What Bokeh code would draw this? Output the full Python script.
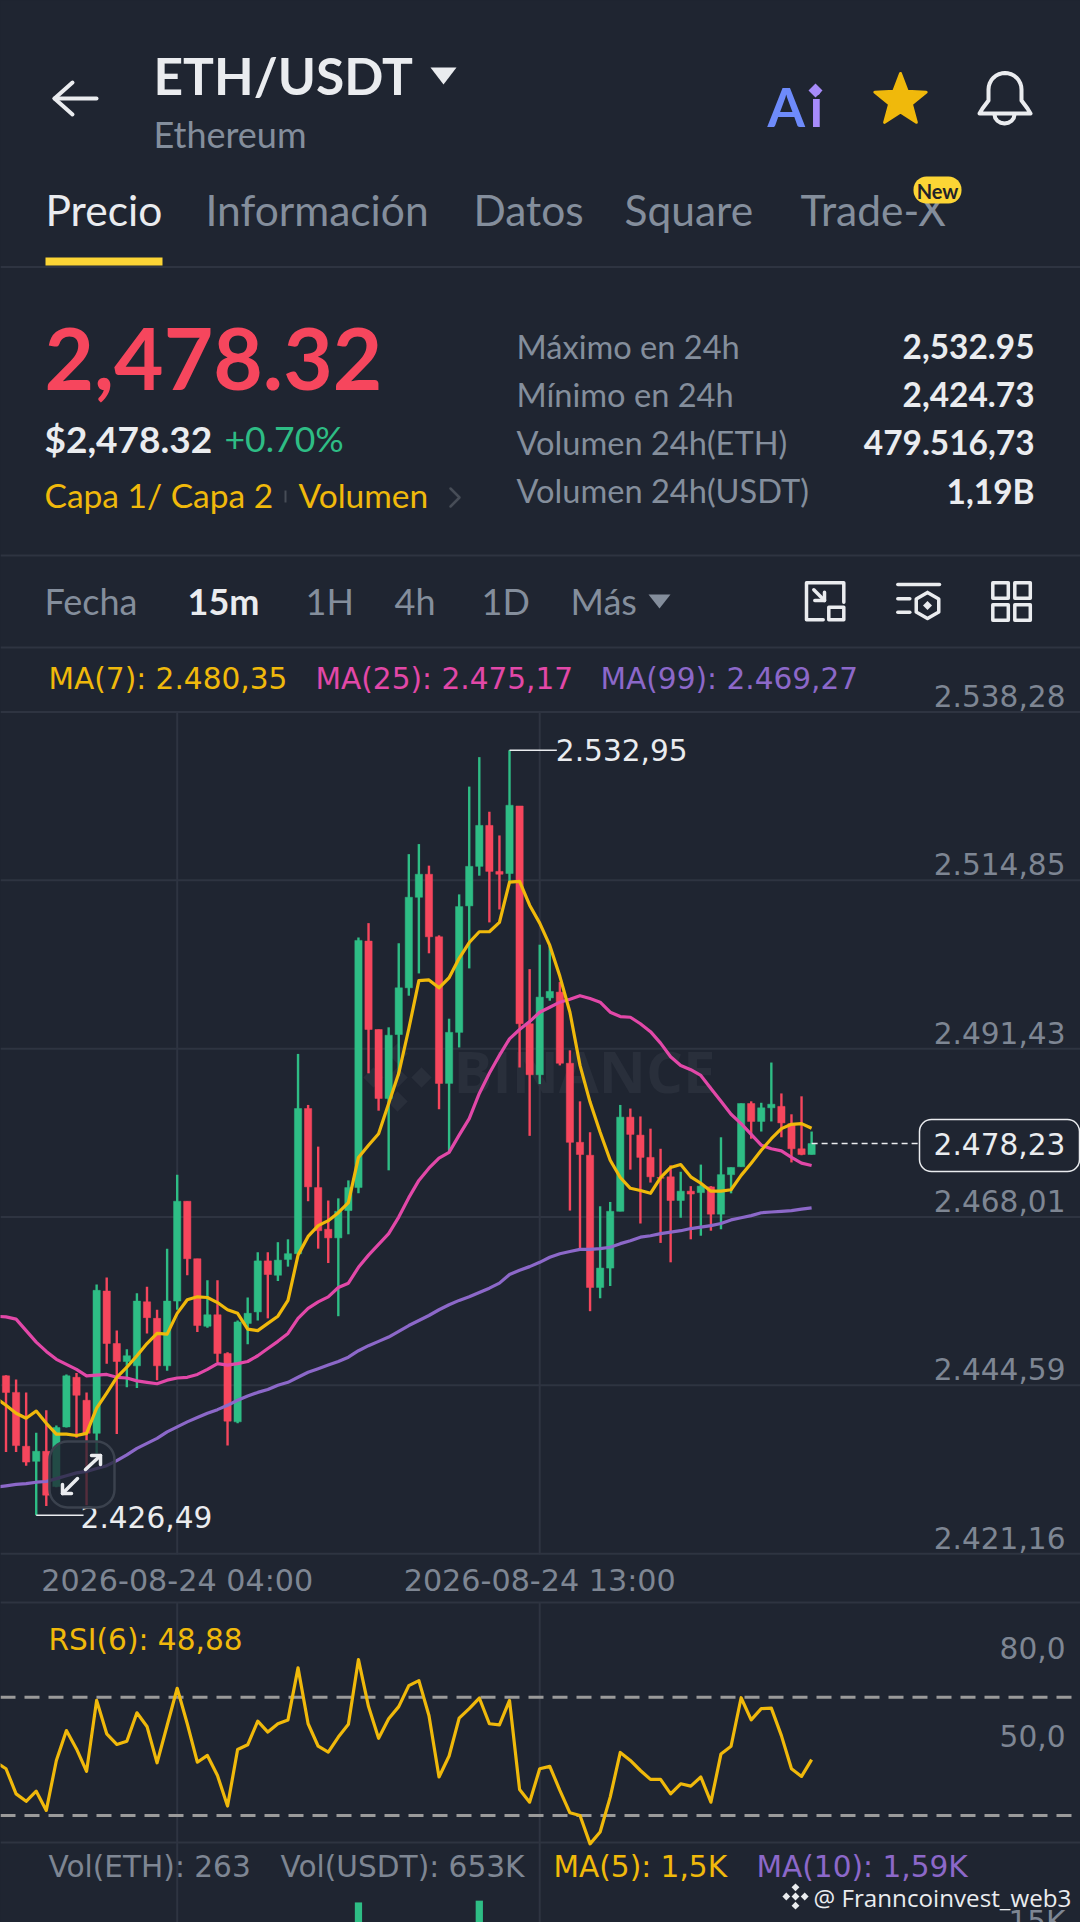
import math
from bokeh.plotting import figure
from bokeh.models import Range1d, ColumnDataSource
from bokeh.core.properties import value
from bokeh.embed import file_html
from bokeh.resources import INLINE

# ---------- data ----------
candle_index = list(range(-17, 64))
open_ = [2445.9,2443.6,2436.1,2434.0,2435.4,2430.5,2438.8,2445.7,2442.5,2437.9,2457.7,2450.4,2447.9,2447.3,2456.2,2453.9,2447.3,
2456.3,2470.2,2462.2,2452.8,2454.4,2449.0,2439.5,2453.2,2454.8,2461.9,2459.9,2462.1,2462.9,2483.1,2472.1,2466.3,2465.1,2468.9,
2472.1,2506.4,2494.1,2484.5,2493.4,2499.9,2512.5,2515.7,2507.0,2486.6,2493.7,2511.3,2516.8,2522.5,2516.1,2515.8,2525.2,2494.9,
2487.8,2498.5,2499.3,2489.4,2478.4,2476.6,2458.2,2460.9,2468.8,2481.9,2479.4,2476.3,2473.5,2473.6,2470.3,2471.6,2471.4,2472.2,
2468.4,2473.9,2475.0,2483.8,2481.3,2483.2,2483.4,2481.0,2477.5,2476.7]
high = [2446.0,2445.4,2443.6,2438.0,2441.1,2439.0,2446.1,2446.3,2443.6,2458.6,2459.6,2452.2,2449.6,2457.4,2458.3,2455.1,2463.6,
2473.9,2470.2,2462.2,2459.2,2459.2,2449.2,2453.6,2456.8,2463.1,2463.1,2464.5,2464.9,2490.7,2483.6,2477.8,2470.3,2470.6,2473.1,
2506.9,2508.9,2494.1,2494.4,2506.1,2518.5,2519.9,2516.9,2507.2,2495.6,2512.9,2527.9,2532.0,2524.4,2521.1,2532.95,2525.2,2502.5,
2505.9,2505.8,2500.7,2491.2,2484.1,2479.8,2469.5,2470.1,2483.6,2483.1,2482.0,2480.3,2477.5,2475.2,2474.3,2472.3,2475.3,2472.3,
2479.1,2474.9,2483.8,2484.1,2483.9,2489.5,2485.2,2482.3,2484.8,2479.9]
low = [2435.3,2435.3,2433.4,2426.49,2427.8,2430.4,2438.7,2437.3,2427.9,2435.1,2447.6,2437.8,2444.3,2444.2,2451.8,2445.3,2446.6,
2455.1,2459.9,2452.0,2452.6,2447.8,2436.2,2439.3,2450.3,2453.6,2453.9,2459.1,2461.1,2462.8,2470.2,2463.6,2461.6,2454.2,2465.6,
2471.3,2488.0,2482.8,2474.5,2487.7,2498.8,2501.9,2504.7,2483.0,2477.0,2491.6,2502.6,2515.5,2509.0,2510.8,2514.4,2488.8,2479.3,
2486.5,2498.1,2489.1,2468.9,2463.6,2454.9,2456.7,2458.4,2468.8,2474.6,2467.1,2472.8,2464.4,2461.7,2467.9,2464.9,2465.4,2466.1,
2466.3,2471.3,2475.0,2478.9,2479.9,2481.3,2479.1,2475.6,2476.6,2476.7]
close = [2443.6,2436.2,2433.9,2435.4,2429.3,2438.7,2445.9,2443.2,2437.9,2457.8,2450.4,2447.9,2448.7,2456.3,2454.0,2447.3,2456.3,
2470.2,2462.2,2452.9,2454.4,2449.0,2439.6,2453.4,2454.6,2461.9,2460.0,2462.0,2462.9,2483.1,2472.2,2466.1,2465.1,2468.8,2472.1,
2506.5,2494.1,2484.5,2493.3,2499.9,2512.5,2515.7,2507.0,2486.6,2493.7,2511.2,2516.8,2522.5,2516.1,2515.7,2525.3,2494.9,2487.8,
2498.6,2499.4,2489.4,2478.4,2476.7,2458.2,2460.9,2468.8,2481.9,2479.5,2476.3,2473.6,2473.4,2470.3,2471.6,2471.2,2472.3,2468.4,
2473.9,2474.9,2483.8,2481.3,2483.2,2483.7,2481.1,2477.5,2476.7,2478.23]

line_index = list(range(-18, 64))
ma7 = [2442.8,2441.8,2440.7,2440.0,2441.0,2439.3,2437.8,2437.8,2437.6,2437.9,2441.4,2443.5,2445.7,2447.1,2448.7,2450.4,2451.8,2451.7,
2454.6,2456.5,2456.9,2456.8,2456.1,2455.1,2454.6,2452.4,2452.2,2453.2,2454.2,2456.4,2462.7,2465.3,2466.8,2467.5,2468.6,2470.0,
2476.3,2478.0,2479.6,2483.8,2488.0,2494.2,2500.9,2501.0,2499.9,2501.3,2504.0,2506.2,2507.7,2507.7,2509.0,2514.6,2514.7,2511.4,
2508.9,2505.8,2501.5,2496.5,2489.1,2484.0,2479.8,2475.9,2473.5,2472.0,2471.7,2471.3,2473.5,2474.9,2475.3,2473.6,2472.7,2471.6,
2471.6,2471.8,2473.8,2475.5,2477.3,2478.9,2480.3,2480.9,2481.0,2480.35]
ma25 = [2454.2,2454.1,2453.8,2452.2,2450.6,2449.3,2448.2,2447.5,2446.8,2445.9,2446.0,2446.1,2445.7,2445.6,2445.2,2445.0,2444.8,2445.3,
2445.6,2445.7,2446.1,2446.8,2447.6,2447.4,2447.6,2447.9,2448.7,2449.7,2450.7,2451.8,2453.9,2455.3,2456.2,2456.9,2458.2,2458.8,
2461.0,2462.7,2464.2,2465.7,2468.0,2470.7,2473.1,2474.8,2476.2,2477.0,2479.4,2481.7,2485.2,2488.0,2490.5,2492.8,2494.1,2495.2,
2496.5,2497.2,2497.9,2498.3,2498.8,2498.4,2497.9,2496.5,2495.9,2495.8,2494.9,2493.8,2492.2,2490.3,2489.1,2488.5,2487.7,2485.9,
2484.1,2482.3,2481.0,2479.5,2478.0,2477.5,2477.2,2476.3,2475.5,2475.17]
ma99 = [2430.4,2430.6,2430.8,2430.9,2431.1,2431.2,2431.6,2432.0,2432.4,2432.6,2433.0,2433.4,2434.1,2434.9,2435.8,2436.5,2437.2,2438.1,
2438.8,2439.5,2440.1,2440.7,2441.2,2441.8,2442.5,2443.1,2443.6,2444.0,2444.6,2445.0,2445.7,2446.4,2446.9,2447.4,2447.9,2448.5,
2449.4,2450.1,2450.7,2451.3,2452.1,2452.9,2453.6,2454.3,2455.1,2455.8,2456.4,2456.9,2457.5,2458.1,2458.8,2460.0,2460.6,2461.1,
2461.7,2462.4,2462.9,2463.2,2463.5,2463.5,2463.6,2463.8,2464.3,2464.7,2465.2,2465.4,2465.7,2465.9,2466.1,2466.4,2466.6,2466.8,
2467.1,2467.6,2467.9,2468.2,2468.6,2468.7,2468.8,2468.9,2469.1,2469.27]
rsi6 = [48.0,45.8,37.3,34.8,38.2,31.7,48.6,58.7,52.5,44.9,68.9,57.6,54.0,55.1,64.7,60.1,47.8,60.4,
73.0,61.0,48.0,50.3,43.5,33.2,52.3,53.9,61.9,58.2,61.0,62.3,79.9,61.0,53.4,51.4,56.5,60.8,
82.7,66.8,56.1,62.7,66.8,73.9,75.6,63.8,43.0,50.1,62.9,66.1,69.7,61.0,60.6,68.9,38.8,34.5,
45.8,46.6,38.5,30.9,30.0,20.4,24.4,36.2,51.3,48.6,45.2,42.2,42.2,37.3,40.7,39.9,43.0,34.5,
50.8,53.4,69.8,62.3,66.1,66.3,57.0,45.8,43.2,48.88]
vol_index = [18, 30]
vol_values = [19100, 19300]

price_ticks = [2538.28, 2514.85, 2491.43, 2468.01, 2444.59, 2421.16]
price_tick_labels = ["2.538,28", "2.514,85", "2.491,43", "2.468,01", "2.444,59", "2.421,16"]
rsi_levels = [70, 30]
rsi_ticks = [80, 50]
rsi_tick_labels = ["80,0", "50,0"]
time_ticks = [0, 36]
time_labels = ["2026-08-24 04:00", "2026-08-24 13:00"]
high_point = (33, 2532.95, "2.532,95")
low_point = (-14, 2426.49, "2.426,49")
last_point = (63, 2478.23, "2.478,23")

# ---------- palette ----------
BG = "#1F2531"; GRID = "#2E3441"; UP = "#2EBD85"; DOWN = "#F6465D"
YEL = "#F0B90B"; PINK = "#E248A8"; PUR = "#8C68C9"; GR = "#848E9C"; WH = "#EAECEF"
AXG = "#7E8693"
UI = "Lato"; CH = "DejaVu Sans"; CHS = "29.6px"

W, H = 1080, 1922
p = figure(width=W, height=H, x_range=Range1d(0, W), y_range=Range1d(H, 0),
           output_backend="svg", toolbar_location=None, x_axis_type=None, y_axis_type=None,
           background_fill_color=BG, border_fill_color=BG, min_border=0, outline_line_color=None)
p.grid.visible = False

# scales: candle index, price, RSI, volume
PX_PER_CANDLE = 10.07; X0 = 176.7
p.extra_x_ranges["idx"] = Range1d(-X0 / PX_PER_CANDLE, (W - X0) / PX_PER_CANDLE)
PX_PER_USD = 168.3 / 23.42; Y_TOP = 711.5
p.extra_y_ranges["price"] = Range1d(price_ticks[0] - (H - Y_TOP) / PX_PER_USD, price_ticks[0] + Y_TOP / PX_PER_USD)
PX_PER_RSI = 2.958; Y50 = 1755.8
p.extra_y_ranges["rsi"] = Range1d(50 - (H - Y50) / PX_PER_RSI, 50 + Y50 / PX_PER_RSI)
PX_PER_VOL = 8.8 / 1000; Y15K = 1938
p.extra_y_ranges["vol"] = Range1d(15000 - (H - Y15K) / PX_PER_VOL, 15000 + Y15K / PX_PER_VOL)


def T(x, y, s, color=WH, size=30, font=UI, bold=False, align="left", base="middle", **kw):
    p.text(x=[x], y=[y], text=[s], text_color=color, text_font_size=f"{size}px",
           text_font=value(font), text_font_style="bold" if bold else "normal",
           text_align=align, text_baseline=base, **kw)


def L(xs, ys, color=WH, width=4, **kw):
    p.line(xs, ys, line_color=color, line_width=width, line_cap="round", line_join="round", **kw)


def diamond(cx, cy, r, color):
    p.patch([cx - r, cx, cx + r, cx], [cy, cy - r, cy, cy + r], fill_color=color, line_color=None)


def logo(cx, cy, u, color):
    # five-diamond exchange mark
    for dx, dy in [(0, 0), (-2, 0), (2, 0), (0, -2), (0, 2)]:
        diamond(cx + dx * u, cy + dy * u, u * 0.85, color)


# ---------- separators ----------
for yy in [266.5, 555, 647, 1602, 1842]:
    p.segment(x0=[0], x1=[W], y0=[yy], y1=[yy], line_color=GRID, line_width=2)
p.quad(left=[45], right=[162], top=[257], bottom=[265], fill_color="#FCD535", line_color=None)

# ---------- header ----------
L([96, 54], [98, 98], WH); L([72, 54, 72], [82, 98, 114], WH)
T(153, 74, "ETH/USDT", WH, 51.5, UI, True)
p.patch([430, 456, 443], [67, 67, 84], fill_color=WH, line_color=None)
T(153, 133, "Ethereum", GR, 36)
T(767, 106, "A", "#6E8BFA", 54, UI, True)
T(809, 106, "i", "#A78BFA", 54, UI, True)
diamond(815, 90, 7, "#A78BFA")
sx, sy = [], []
for k in range(10):
    r = 27 if k % 2 == 0 else 11.5
    a = -math.pi / 2 + k * math.pi / 5
    sx.append(900 + r * math.cos(a)); sy.append(100 + r * math.sin(a))
p.patch(sx, sy, fill_color=YEL, line_color=YEL, line_width=3, line_join="round")
bx = [982, 988] + [1004.5 + 16.5 * math.cos(math.pi + t * math.pi / 16) for t in range(17)] + [1021, 1027, 1030, 979, 982]
by = [108, 100] + [89 + 16.5 * math.sin(math.pi + t * math.pi / 16) for t in range(17)] + [100, 108, 113, 113, 108]
L(bx, by, WH, 4)
L([994 + 10 - 10 * math.cos(t * math.pi / 8) for t in range(9)], [114 + 9 * math.sin(t * math.pi / 8) for t in range(9)], WH, 4)

for x, s, c in [(45, "Precio", WH), (205, "Información", GR), (473, "Datos", GR), (624, "Square", GR), (800, "Trade-X", GR)]:
    T(x, 209, s, c, 42.5)
p.quad(left=[913], right=[961], top=[176], bottom=[203], fill_color="#FCD535", line_color=None, border_radius=13)
T(937, 190, "New", "#1E2329", 20, UI, True, "center")

# ---------- quote ----------
T(44, 358, "2,478.32", DOWN, 85.5, UI, True)
T(44, 438, "$2,478.32", WH, 37, UI, True)
T(224, 438, "+0.70%", UP, 35.5)
T(44, 494, "Capa 1/ Capa 2", YEL, 33.5)
p.segment(x0=[285], x1=[285], y0=[490], y1=[502], line_color="#474D57", line_width=2)
T(298, 494, "Volumen", YEL, 33.5)
L([450, 459, 450], [488, 497, 506], "#474D57", 2.5)
rows = [("Máximo en 24h", "2,532.95"), ("Mínimo en 24h", "2,424.73"), ("Volumen 24h(ETH)", "479.516,73"), ("Volumen 24h(USDT)", "1,19B")]
for yy, (a, b) in zip([346, 394, 442, 490], rows):
    T(516, yy, a, GR, 32.6)
    T(1034, yy, b, WH, 33.4, UI, True, "right")

# ---------- toolbar ----------
for x, s, c, b in [(44, "Fecha", GR, False), (187, "15m", WH, True), (305, "1H", GR, False), (394, "4h", GR, False), (481, "1D", GR, False), (570, "Más", GR, False)]:
    T(x, 600, s, c, 36, UI, b)
p.patch([648, 670, 659], [594, 594, 608], fill_color=GR, line_color=None)
L([822.7, 806, 806, 843.3, 843.3], [619.3, 619.3, 582.3, 582.3, 601.7], WH, 3.5)
L([828.3, 843.3, 843.3, 828.3, 828.3], [606.7, 606.7, 619.3, 619.3, 606.7], WH, 3.5)
L([813.3, 824], [589.3, 600], WH, 3.5); L([824, 824, 814.3], [591.7, 600, 600], WH, 3.5)
L([897.3, 939], [584, 584], WH, 3.5); L([897.3, 909.3], [598.3, 598.3], WH, 3.5); L([897.3, 909.3], [611.7, 611.7], WH, 3.5)
hx = [927 + 13 * math.sin(k * math.pi / 3) for k in range(7)]; hy = [605 - 13 * math.cos(k * math.pi / 3) for k in range(7)]
L(hx, hy, WH, 3.5); diamond(927, 605, 4.5, WH)
for l_ in [992.3, 1014.3]:
    for t_ in [582.3, 604.3]:
        L([l_, l_ + 15.5, l_ + 15.5, l_, l_], [t_, t_, t_ + 15.5, t_ + 15.5, t_], WH, 3.5)

# ---------- price panel ----------
logo(397, 1077, 12, "#292F3B")
T(453, 1070, "BINANCE", "#292F3B", 58, "Open Sans", True)
p.segment(x0=[0] * 6, x1=[W] * 6, y0=price_ticks, y1=price_ticks, y_range_name="price", line_color=GRID, line_width=2)
p.segment(x0=time_ticks, x1=time_ticks, y0=[711.5] * 2, y1=[1554] * 2, x_range_name="idx", line_color=GRID, line_width=2)
p.segment(x0=time_ticks, x1=time_ticks, y0=[1602] * 2, y1=[H] * 2, x_range_name="idx", line_color=GRID, line_width=2)

cs = ColumnDataSource(dict(i=candle_index, o=open_, h=high, l=low, c=close,
                           top=[max(a, b) for a, b in zip(open_, close)],
                           bot=[min(a, b) for a, b in zip(open_, close)],
                           col=[UP if b >= a else DOWN for a, b in zip(open_, close)]))
p.segment(x0="i", x1="i", y0="l", y1="h", source=cs, x_range_name="idx", y_range_name="price", line_color="col", line_width=2.4)
p.vbar(x="i", width=0.72, top="top", bottom="bot", source=cs, x_range_name="idx", y_range_name="price", fill_color="col", line_color="col", line_width=0.5)

p.line(line_index, ma99, x_range_name="idx", y_range_name="price", line_color=PUR, line_width=3.2, line_join="round")
p.line(line_index, ma25, x_range_name="idx", y_range_name="price", line_color=PINK, line_width=3.2, line_join="round")
p.line(line_index, ma7, x_range_name="idx", y_range_name="price", line_color=YEL, line_width=3.2, line_join="round")

T(48, 678, "MA(7): 2.480,35", YEL, 29.6, CH)
T(315, 678, "MA(25): 2.475,17", PINK, 29.6, CH)
T(600, 678, "MA(99): 2.469,27", PUR, 29.6, CH)

for tv, tl in zip(price_ticks, price_tick_labels):
    p.text(x=[1065], y=[tv], text=[tl], y_range_name="price", y_offset=-16, text_color=AXG, text_font_size=CHS,
           text_font=value(CH), text_align="right", text_baseline="middle")
for tv, tl in zip(time_ticks, time_labels):
    p.text(x=[tv], y=[1580], text=[tl], x_range_name="idx", text_color=AXG, text_font_size="30.2px",
           text_font=value(CH), text_align="center", text_baseline="middle")

# high / low callouts
p.segment(x0=[high_point[0]], x1=[high_point[0] + 4.7], y0=[high_point[1]], y1=[high_point[1]], x_range_name="idx", y_range_name="price", line_color=WH, line_width=1.5)
p.text(x=[high_point[0] + 4.7], y=[high_point[1]], text=[high_point[2]], x_range_name="idx", y_range_name="price", x_offset=-1,
       text_color=WH, text_font_size=CHS, text_font=value(CH), text_baseline="middle")
p.segment(x0=[low_point[0]], x1=[low_point[0] + 4.7], y0=[low_point[1]], y1=[low_point[1]], x_range_name="idx", y_range_name="price", line_color=WH, line_width=1.5)
p.text(x=[low_point[0] + 4.7], y=[low_point[1]], text=[low_point[2]], x_range_name="idx", y_range_name="price", x_offset=-3, y_offset=2,
       text_color=WH, text_font_size=CHS, text_font=value(CH), text_baseline="middle")

# last price tag
p.segment(x0=[last_point[0]], x1=[73.9], y0=[last_point[1]], y1=[last_point[1]], x_range_name="idx", y_range_name="price", line_color=WH, line_width=1.5, line_dash="6 4")
p.quad(left=[919], right=[1079], top=[1119], bottom=[1171], fill_color=BG, line_color=WH, line_width=1.5, border_radius=12)
p.text(x=[999], y=[last_point[1]], text=[last_point[2]], y_range_name="price", text_color=WH, text_font_size=CHS,
       text_font=value(CH), text_align="center", text_baseline="middle")

# expand button
p.quad(left=[49], right=[114], top=[1441], bottom=[1507], fill_color=BG, fill_alpha=0.75, line_color="#3B424E", line_width=2.5, border_radius=18)
L([85, 100], [1469, 1455], WH, 3.5); L([91, 100, 100], [1455, 1455, 1464], WH, 3.5)
L([77, 62], [1478, 1493], WH, 3.5); L([62, 62, 71], [1484, 1493, 1493], WH, 3.5)

# ---------- RSI panel ----------
T(48, 1639, "RSI(6): 48,88", YEL, 29.6, CH)
p.segment(x0=[0, 0], x1=[W, W], y0=rsi_levels, y1=rsi_levels, y_range_name="rsi", line_color="#9A9A9A", line_width=3, line_dash="15 9")
p.line(line_index, rsi6, x_range_name="idx", y_range_name="rsi", line_color=YEL, line_width=3.2, line_join="round")
for tv, tl in zip(rsi_ticks, rsi_tick_labels):
    p.text(x=[1065], y=[tv], text=[tl], y_range_name="rsi", y_offset=-20, text_color=AXG, text_font_size=CHS,
           text_font=value(CH), text_align="right", text_baseline="middle")

# ---------- volume panel ----------
T(48, 1866, "Vol(ETH): 263", AXG, 29.6, CH)
T(280, 1866, "Vol(USDT): 653K", AXG, 29.6, CH)
T(553, 1866, "MA(5): 1,5K", YEL, 29.6, CH)
T(756, 1866, "MA(10): 1,59K", PUR, 29.6, CH)
p.vbar(x=vol_index, width=0.72, top=vol_values, bottom=[0, 0], x_range_name="idx", y_range_name="vol", fill_color=UP, line_color=None)
T(1065, 1921, "15K", AXG, 29.6, CH, align="right")

# ---------- attribution ----------
logo(795, 1896, 4.6, WH)
T(813, 1897, "@ Franncoinvest_web3", WH, 24.2, "Open Sans")

css = "<head><style>html,body{margin:0;padding:0;overflow:hidden;background:%s}</style>" % BG
open("out.html", "w").write(file_html(p, INLINE).replace("<head>", css, 1))
